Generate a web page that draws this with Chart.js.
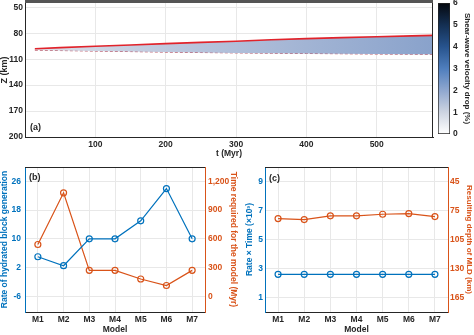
<!DOCTYPE html>
<html>
<head>
<meta charset="utf-8">
<script src="https://cdn.jsdelivr.net/npm/chart.js@4.4.1/dist/chart.umd.min.js"></script>
<style>
  html, body { margin:0; padding:0; background:#fff; }
  body { width:474px; height:335px; position:relative; overflow:hidden; }
  canvas { position:absolute; }
  #chartA { left:0; top:0; }
  #colorBar { left:430px; top:0; }
  #chartB { left:0; top:160px; }
  #chartC { left:240px; top:160px; }
</style>
</head>
<body>
<canvas id="chartA" width="434" height="160"></canvas>
<canvas id="colorBar" width="44" height="160"></canvas>
<canvas id="chartB" width="240" height="175"></canvas>
<canvas id="chartC" width="234" height="175"></canvas>
<script>
// ---- (a) hydrated layer depth vs time
const tMyr   = [14, 50, 100, 150, 200, 250, 300, 350, 400, 450, 500, 550, 580];
const zTop   = [98, 96.6, 95, 93.6, 92, 90.6, 89.2, 87.5, 86.2, 85, 84, 83, 82.4];
const zBase  = [99.5, 100, 100.6, 101.2, 101.8, 102.3, 102.7, 103.1, 103.4, 103.7, 104, 104.2, 104.3];
const tTicks = [100, 200, 300, 400, 500];
const zTicks = [50, 80, 110, 140, 170, 200];
const dropTicks = [0, 1, 2, 3, 4, 5, 6];

// ---- (b) / (c) per model
const models   = ["M1", "M2", "M3", "M4", "M5", "M6", "M7"];
const rate     = [5, 2.5, 10, 10, 15, 24, 10];
const timeReq  = [540, 1080, 270, 270, 180, 112, 270];
const rateTime = [2.6, 2.6, 2.6, 2.6, 2.6, 2.6, 2.6];
const mldDepth = [83.4, 84.4, 80.5, 80.5, 78.9, 78.2, 81.3];
const rateTicks  = [-6, 2, 10, 18, 26];
const timeTicks  = [0, 300, 600, 900, 1200];
const rtTicks    = [1, 3, 5, 7, 9];
const mldTicks   = [45, 75, 105, 135, 165];
const mldLabels  = ["45", "75", "105", "130", "165"];

const BLUE = "#0072BD";
const ORANGE = "#D95319";
const DARK = "#262626";
const GRID = "#e8e8e8";
const FAMILY = "'Liberation Sans', Arial, sans-serif";
const font = { family: FAMILY, size: 8.5, weight: "bold" };
const tickFont = { family: FAMILY, size: 8.5, weight: "bold" };
const sideFont = { family: FAMILY, size: 8.5, weight: "bold" };
const sideFontTight = { family: FAMILY, size: 8, weight: "bold", lineHeight: 1 };

const setTicks = list => scale => { scale.ticks = list.map(v => ({ value: v })); };

// fixed axis size, no extra label padding around the plot box
const fitTo = (key, px) => scale => {
  scale[key] = px;
  scale.paddingTop = 0;
  scale.paddingBottom = 0;
  scale.paddingLeft = 0;
  scale.paddingRight = 0;
};

function bandGradient(chart){
  const { ctx, chartArea } = chart;
  if(!chartArea) return "#b8c4da";
  const g = ctx.createLinearGradient(chartArea.left, 0, chartArea.right, 0);
  g.addColorStop(0, "#dde1e9");
  g.addColorStop(0.45, "#b5c2db");
  g.addColorStop(1, "#89a2cb");
  return g;
}

function dropGradient(chart){
  const { ctx, chartArea } = chart;
  if(!chartArea) return "#5f88c0";
  const g = ctx.createLinearGradient(0, chartArea.bottom, 0, chartArea.top);
  g.addColorStop(0, "#ffffff");
  g.addColorStop(1/6, "#cdd4e1");
  g.addColorStop(2/6, "#8fa7cf");
  g.addColorStop(3/6, "#4f7ebd");
  g.addColorStop(4/6, "#27538d");
  g.addColorStop(5/6, "#142f52");
  g.addColorStop(1, "#05080e");
  return g;
}

// box edges + panel letter
function framePlugin(letter, opts){
  return {
    id: "frame" + letter,
    afterDraw(chart){
      const { ctx, chartArea: a } = chart;
      ctx.save();
      if(opts.band){
        ctx.fillStyle = "#555";
        ctx.fillRect(a.left, 0, a.right - a.left, a.top);
      } else {
        ctx.strokeStyle = DARK;
        ctx.lineWidth = 1;
        ctx.beginPath();
        ctx.moveTo(a.left, a.top + 0.5);
        ctx.lineTo(a.right, a.top + 0.5);
        ctx.stroke();
      }
      if(opts.right){
        ctx.strokeStyle = DARK;
        ctx.beginPath();
        ctx.moveTo(a.right - 0.5, a.top);
        ctx.lineTo(a.right - 0.5, a.bottom);
        ctx.stroke();
      }
      ctx.fillStyle = DARK;
      ctx.font = "bold 9px " + FAMILY;
      ctx.textBaseline = "middle";
      ctx.fillText("(" + letter + ")", a.left + opts.dx, opts.y);
      ctx.restore();
    }
  };
}

// =====================================
// (a) depth band
// =====================================
new Chart(document.getElementById("chartA"), {
  type: "line",
  data: {
    datasets: [
      {
        data: tMyr.map((t, i) => ({ x: t, y: zTop[i] })),
        borderColor: "#e1232b",
        borderWidth: 1.6,
        pointRadius: 0,
        fill: "+1",
        backgroundColor: c => bandGradient(c.chart)
      },
      {
        data: tMyr.map((t, i) => ({ x: t, y: zBase[i] })),
        borderColor: "#b44a5c",
        borderWidth: 1,
        borderDash: [3, 2],
        pointRadius: 0,
        fill: false
      }
    ]
  },
  options: {
    responsive: false,
    animation: false,
    layout: { padding: { top: 3, right: 1 } },
    plugins: { legend: { display: false }, tooltip: { enabled: false } },
    scales: {
      x: {
        type: "linear", min: 0, max: 580,
        afterBuildTicks: setTicks(tTicks),
        afterFit: fitTo("height", 23),
        grid: { color: GRID, drawTicks: false },
        border: { color: DARK },
        ticks: { color: DARK, font: tickFont, padding: 3 },
        title: { display: true, text: "t (Myr)", color: DARK, font, padding: { bottom: 1.5 } }
      },
      y: {
        type: "linear", reverse: true, min: 45, max: 200,
        afterBuildTicks: setTicks(zTicks),
        afterFit: fitTo("width", 25),
        grid: { color: GRID, drawTicks: false },
        border: { color: DARK },
        ticks: { color: DARK, font: tickFont, padding: 2 },
        title: { display: true, text: "Z (km)", color: DARK, font: { family: FAMILY, size: 9, weight: "bold", lineHeight: 1 }, padding: { top: 0.5 } }
      }
    }
  },
  plugins: [framePlugin("a", { band: true, right: true, dx: 5, y: 128 })]
});

// colour scale
new Chart(document.getElementById("colorBar"), {
  type: "bar",
  data: {
    labels: [""],
    datasets: [{
      data: [dropTicks[dropTicks.length - 1]],
      backgroundColor: c => dropGradient(c.chart),
      borderColor: DARK,
      borderWidth: 1,
      borderSkipped: false,
      barPercentage: 1,
      categoryPercentage: 1
    }]
  },
  options: {
    responsive: false,
    animation: false,
    layout: { padding: { top: 3, left: 8, bottom: 26 } },
    plugins: { legend: { display: false }, tooltip: { enabled: false } },
    scales: {
      x: { display: false },
      y: {
        position: "right", min: 0, max: 6,
        afterBuildTicks: setTicks(dropTicks),
        afterFit: fitTo("width", 24),
        grid: { display: false, drawTicks: false },
        border: { display: false },
        ticks: { color: DARK, font: tickFont, padding: 3 },
        title: { display: true, text: "Shear-wave velocity drop (%)", color: DARK, font: sideFontTight, padding: { top: 2.5 } }
      }
    }
  }
});

// =====================================
// (b) rate and time per model
// =====================================
function modelAxis(){
  return {
    type: "category",
    offset: true,
    afterFit: fitTo("height", 23),
    grid: { color: GRID, drawTicks: false },
    border: { color: DARK },
    ticks: { color: DARK, font: tickFont, padding: 3 },
    title: { display: true, text: "Model", color: DARK, font, padding: { bottom: 0 } }
  };
}

function seriesStyle(color){
  return {
    borderColor: color,
    backgroundColor: "rgba(0,0,0,0)",
    borderWidth: 1.2,
    pointRadius: 3,
    pointBorderWidth: 1.2,
    pointBackgroundColor: "rgba(0,0,0,0)",
    pointBorderColor: color,
    tension: 0
  };
}

new Chart(document.getElementById("chartB"), {
  type: "line",
  data: {
    labels: models,
    datasets: [
      Object.assign({ data: rate, yAxisID: "y" }, seriesStyle(BLUE)),
      Object.assign({ data: timeReq, yAxisID: "y1" }, seriesStyle(ORANGE))
    ]
  },
  options: {
    responsive: false,
    animation: false,
    layout: { padding: { top: 7 } },
    plugins: { legend: { display: false }, tooltip: { enabled: false } },
    scales: {
      x: modelAxis(),
      y: {
        position: "left", min: -10.4, max: 30,
        afterBuildTicks: setTicks(rateTicks),
        afterFit: fitTo("width", 25),
        grid: { color: GRID, drawTicks: false },
        border: { color: BLUE },
        ticks: { color: BLUE, font: tickFont, padding: 4 },
        title: { display: true, text: "Rate of hydrated block generation", color: BLUE, font: sideFont, padding: { top: 0 } }
      },
      y1: {
        position: "right", min: -165, max: 1350,
        afterBuildTicks: setTicks(timeTicks),
        afterFit: fitTo("width", 35),
        grid: { drawOnChartArea: false, drawTicks: false },
        border: { color: ORANGE },
        ticks: { color: ORANGE, font: tickFont, padding: 3 },
        title: { display: true, text: "Time required for the model (Myr)", color: ORANGE, font: sideFont, padding: { top: 1.5 } }
      }
    }
  },
  plugins: [framePlugin("b", { dx: 4, y: 178 - 160 })]
});

// =====================================
// (c) product and resulting MLD depth
// =====================================
new Chart(document.getElementById("chartC"), {
  type: "line",
  data: {
    labels: models,
    datasets: [
      Object.assign({ data: rateTime, yAxisID: "y" }, seriesStyle(BLUE)),
      Object.assign({ data: mldDepth, yAxisID: "y1" }, seriesStyle(ORANGE))
    ]
  },
  options: {
    responsive: false,
    animation: false,
    layout: { padding: { top: 7 } },
    plugins: { legend: { display: false }, tooltip: { enabled: false } },
    scales: {
      x: modelAxis(),
      y: {
        position: "left", min: 0, max: 10,
        afterBuildTicks: setTicks(rtTicks),
        afterFit: fitTo("width", 25),
        grid: { color: GRID, drawTicks: false },
        border: { color: BLUE },
        ticks: { color: BLUE, font: tickFont, padding: 2 },
        title: { display: true, text: "Rate × Time (×10³)", color: BLUE, font: sideFont, padding: { top: 5 } }
      },
      y1: {
        position: "right", reverse: true, min: 30, max: 180,
        afterBuildTicks: setTicks(mldTicks),
        afterFit: fitTo("width", 26),
        grid: { drawOnChartArea: false, drawTicks: false },
        border: { color: ORANGE },
        ticks: {
          color: ORANGE, font: tickFont, padding: 2,
          callback: v => mldLabels[mldTicks.indexOf(v)]
        },
        title: { display: true, text: "Resulting depth of MLD (km)", color: ORANGE, font: sideFontTight, padding: { top: 1 } }
      }
    }
  },
  plugins: [framePlugin("c", { dx: 4, y: 179 - 160 })]
});
</script>
</body>
</html>
